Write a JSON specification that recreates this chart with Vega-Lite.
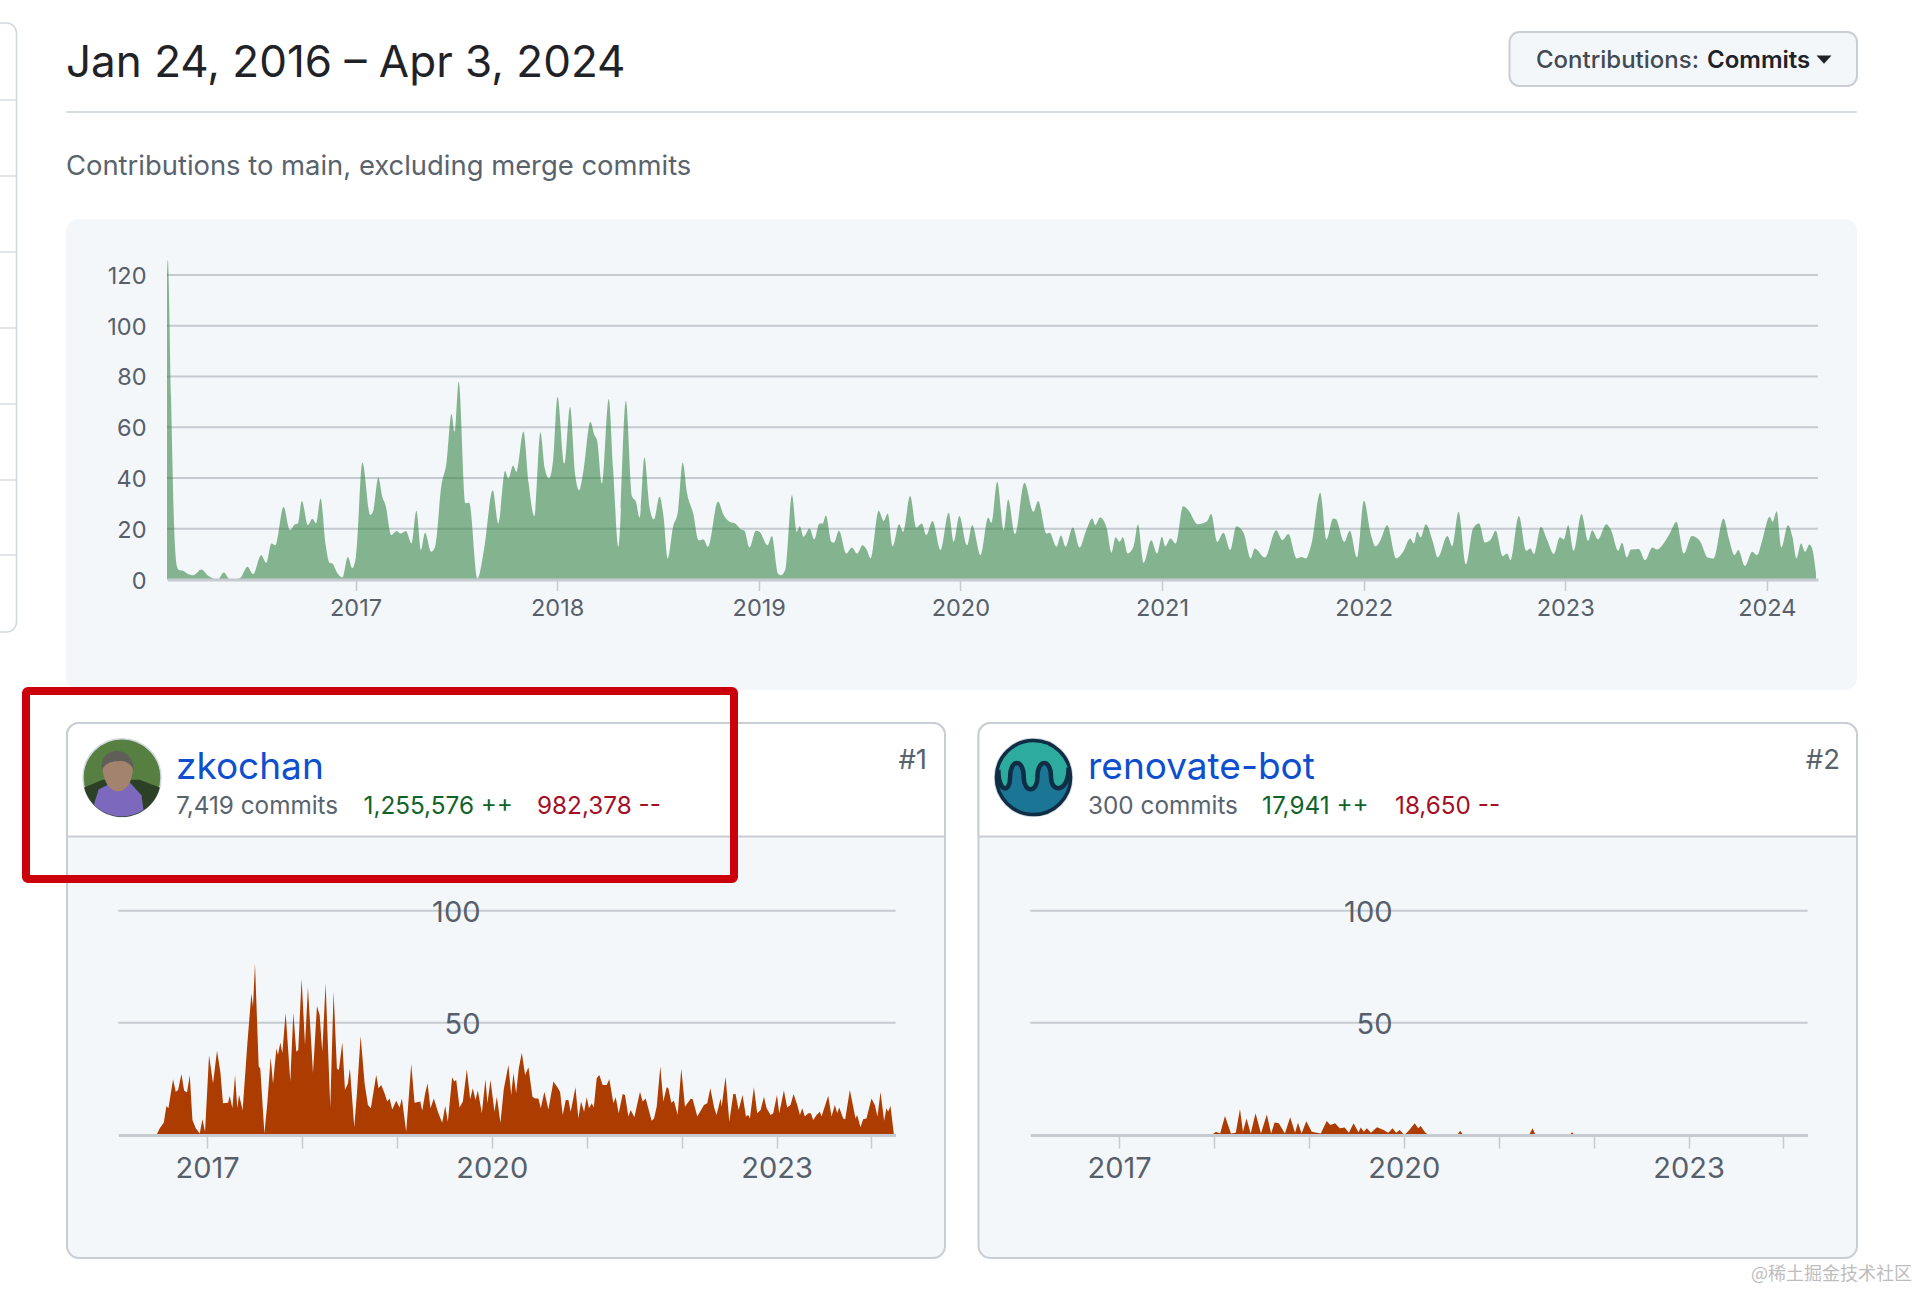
{
"$schema":"https://vega.github.io/schema/vega-lite/v6.json",
"width":1918,"height":1290,"padding":0,"autosize":{"type":"none"},"background":"#ffffff",
"config":{"view":{"stroke":null},"font":"Inter","text":{"baseline":"alphabetic"}},
"datasets":{
"all_commits":[
{"year":2016.065,"commits":120},{"year":2016.069,"commits":126},{"year":2016.085,"commits":72},{"year":2016.101,"commits":19.4},{"year":2016.115,"commits":5},{"year":2016.125,"commits":3.7},{"year":2016.145,"commits":3.4},{"year":2016.165,"commits":2.4},{"year":2016.196,"commits":1.7},{"year":2016.236,"commits":3.9},{"year":2016.266,"commits":1.7},{"year":2016.317,"commits":0},{"year":2016.347,"commits":2.8},{"year":2016.377,"commits":0},{"year":2016.427,"commits":0.5},{"year":2016.464,"commits":5},{"year":2016.492,"commits":2.1},{"year":2016.532,"commits":9.6},{"year":2016.558,"commits":6.6},{"year":2016.583,"commits":14.2},{"year":2016.603,"commits":13.5},{"year":2016.643,"commits":28.6},{"year":2016.675,"commits":19.4},{"year":2016.7,"commits":21.8},{"year":2016.714,"commits":22.1},{"year":2016.734,"commits":30.9},{"year":2016.764,"commits":21.4},{"year":2016.786,"commits":23.9},{"year":2016.804,"commits":22.1},{"year":2016.827,"commits":31.9},{"year":2016.851,"commits":14.2},{"year":2016.871,"commits":6.6},{"year":2016.885,"commits":6.3},{"year":2016.911,"commits":2.4},{"year":2016.935,"commits":0.8},{"year":2016.962,"commits":8.9},{"year":2016.984,"commits":4.5},{"year":2017.002,"commits":8.9},{"year":2017.034,"commits":46.1},{"year":2017.073,"commits":25.4},{"year":2017.089,"commits":27.3},{"year":2017.113,"commits":40.2},{"year":2017.133,"commits":32.6},{"year":2017.149,"commits":29.3},{"year":2017.177,"commits":17.5},{"year":2017.204,"commits":19.1},{"year":2017.224,"commits":18.1},{"year":2017.25,"commits":19.1},{"year":2017.278,"commits":14.2},{"year":2017.302,"commits":27.1},{"year":2017.325,"commits":11.6},{"year":2017.345,"commits":18.4},{"year":2017.375,"commits":10.9},{"year":2017.395,"commits":12.9},{"year":2017.425,"commits":36.5},{"year":2017.452,"commits":46.4},{"year":2017.476,"commits":65.2},{"year":2017.492,"commits":58.2},{"year":2017.512,"commits":77.9},{"year":2017.546,"commits":30},{"year":2017.564,"commits":30.2},{"year":2017.605,"commits":0.4},{"year":2017.637,"commits":11.6},{"year":2017.681,"commits":35.2},{"year":2017.708,"commits":22.1},{"year":2017.742,"commits":42.8},{"year":2017.758,"commits":39.8},{"year":2017.782,"commits":44.9},{"year":2017.798,"commits":42.4},{"year":2017.833,"commits":58.3},{"year":2017.859,"commits":37.8},{"year":2017.887,"commits":25},{"year":2017.917,"commits":58},{"year":2017.939,"commits":43.8},{"year":2017.96,"commits":39.8},{"year":2017.98,"commits":47},{"year":2018.002,"commits":72},{"year":2018.036,"commits":45.7},{"year":2018.064,"commits":68.1},{"year":2018.091,"commits":40.5},{"year":2018.109,"commits":35.2},{"year":2018.131,"commits":43.1},{"year":2018.165,"commits":62.2},{"year":2018.185,"commits":56.9},{"year":2018.198,"commits":54.9},{"year":2018.222,"commits":37.8},{"year":2018.256,"commits":71.1},{"year":2018.278,"commits":43.1},{"year":2018.304,"commits":12.9},{"year":2018.341,"commits":70.4},{"year":2018.373,"commits":32.6},{"year":2018.391,"commits":30.6},{"year":2018.409,"commits":24.4},{"year":2018.433,"commits":48.1},{"year":2018.458,"commits":28.6},{"year":2018.48,"commits":23.7},{"year":2018.508,"commits":32.6},{"year":2018.528,"commits":24.7},{"year":2018.548,"commits":8.3},{"year":2018.575,"commits":20.8},{"year":2018.599,"commits":26.7},{"year":2018.623,"commits":46.1},{"year":2018.645,"commits":33.9},{"year":2018.675,"commits":26},{"year":2018.702,"commits":15.5},
{"year":2018.726,"commits":15.8},{"year":2018.748,"commits":12.9},{"year":2018.798,"commits":30.7},{"year":2018.826,"commits":25.4},{"year":2018.863,"commits":22.5},{"year":2018.879,"commits":22.3},{"year":2018.913,"commits":19.7},{"year":2018.929,"commits":19.2},{"year":2018.954,"commits":12.6},{"year":2018.986,"commits":19.2},{"year":2019.004,"commits":18.8},{"year":2019.044,"commits":13.5},{"year":2019.065,"commits":17.1},{"year":2019.095,"commits":2.4},{"year":2019.111,"commits":1.7},{"year":2019.131,"commits":3.7},{"year":2019.165,"commits":33.2},{"year":2019.188,"commits":18.8},{"year":2019.204,"commits":21},{"year":2019.222,"commits":16.8},{"year":2019.252,"commits":20.1},{"year":2019.276,"commits":15.8},{"year":2019.301,"commits":22.1},{"year":2019.317,"commits":22.1},{"year":2019.333,"commits":25.2},{"year":2019.361,"commits":14.8},{"year":2019.373,"commits":14.5},{"year":2019.398,"commits":19.2},{"year":2019.434,"commits":10.2},{"year":2019.462,"commits":12.6},{"year":2019.488,"commits":10.2},{"year":2019.515,"commits":13.5},{"year":2019.535,"commits":11.8},{"year":2019.555,"commits":8.3},{"year":2019.595,"commits":27.1},{"year":2019.62,"commits":23.1},{"year":2019.64,"commits":26},{"year":2019.664,"commits":13.1},{"year":2019.696,"commits":21.8},{"year":2019.716,"commits":18.8},{"year":2019.751,"commits":32.9},{"year":2019.781,"commits":20.5},{"year":2019.809,"commits":22.1},{"year":2019.831,"commits":17.5},{"year":2019.862,"commits":23.1},{"year":2019.902,"commits":11.6},{"year":2019.942,"commits":26.3},{"year":2019.967,"commits":14.8},{"year":2019.995,"commits":25},{"year":2020.033,"commits":13.5},{"year":2020.059,"commits":21.4},{"year":2020.1,"commits":9.6},{"year":2020.138,"commits":24.4},{"year":2020.154,"commits":22.3},{"year":2020.183,"commits":38.5},{"year":2020.215,"commits":19.4},{"year":2020.237,"commits":31.5},{"year":2020.271,"commits":17.9},{"year":2020.318,"commits":38.1},{"year":2020.362,"commits":26.7},{"year":2020.386,"commits":30.9},{"year":2020.427,"commits":18.1},{"year":2020.443,"commits":18.4},{"year":2020.477,"commits":12.9},{"year":2020.499,"commits":17.3},{"year":2020.522,"commits":12.9},{"year":2020.558,"commits":20.5},{"year":2020.592,"commits":12.6},{"year":2020.622,"commits":18.8},{"year":2020.655,"commits":24},{"year":2020.669,"commits":21.4},{"year":2020.693,"commits":24.4},{"year":2020.725,"commits":20.5},{"year":2020.75,"commits":10.5},{"year":2020.77,"commits":16.6},{"year":2020.79,"commits":14.8},{"year":2020.806,"commits":16.6},{"year":2020.83,"commits":10.2},{"year":2020.861,"commits":13.5},{"year":2020.881,"commits":21.7},{"year":2020.909,"commits":6.6},{"year":2020.947,"commits":15.5},{"year":2020.976,"commits":10.2},{"year":2021,"commits":16.8},{"year":2021.016,"commits":13.1},{"year":2021.042,"commits":16.2},{"year":2021.068,"commits":14.2},{"year":2021.105,"commits":28.9},{"year":2021.133,"commits":27.1},{"year":2021.177,"commits":21.8},{"year":2021.224,"commits":23},{"year":2021.244,"commits":25.8},{"year":2021.274,"commits":14.8},{"year":2021.305,"commits":18.4},{"year":2021.339,"commits":11.6},{"year":2021.369,"commits":21},{"year":2021.405,"commits":18.4},{"year":2021.44,"commits":8.3},{"year":2021.46,"commits":12.2},{"year":2021.51,"commits":8.7},{"year":2021.567,"commits":19.4},{"year":2021.597,"commits":15.5},{"year":2021.627,"commits":17.9},{"year":2021.668,"commits":8.3},
{"year":2021.693,"commits":8.9},{"year":2021.713,"commits":8.3},{"year":2021.742,"commits":14.2},{"year":2021.785,"commits":34.2},{"year":2021.816,"commits":15.8},{"year":2021.849,"commits":24},{"year":2021.863,"commits":23.7},{"year":2021.904,"commits":14.8},{"year":2021.932,"commits":19.2},{"year":2021.967,"commits":8.7},{"year":2022.002,"commits":31},{"year":2022.035,"commits":18.1},{"year":2022.059,"commits":13.1},{"year":2022.084,"commits":15.5},{"year":2022.117,"commits":21.4},{"year":2022.162,"commits":8.3},{"year":2022.196,"commits":10.9},{"year":2022.231,"commits":16.2},{"year":2022.25,"commits":14.2},{"year":2022.266,"commits":18.8},{"year":2022.283,"commits":16.6},{"year":2022.309,"commits":21.8},{"year":2022.344,"commits":14.8},{"year":2022.368,"commits":8.7},{"year":2022.416,"commits":17.1},{"year":2022.44,"commits":13.1},{"year":2022.471,"commits":26.7},{"year":2022.508,"commits":6},{"year":2022.543,"commits":20.1},{"year":2022.573,"commits":22.1},{"year":2022.602,"commits":14.6},{"year":2022.631,"commits":15.8},{"year":2022.655,"commits":19.2},{"year":2022.69,"commits":9.2},{"year":2022.712,"commits":10.2},{"year":2022.729,"commits":7.6},{"year":2022.77,"commits":25},{"year":2022.807,"commits":11.3},{"year":2022.827,"commits":12.2},{"year":2022.845,"commits":10},{"year":2022.88,"commits":20.8},{"year":2022.911,"commits":15.5},{"year":2022.944,"commits":10},{"year":2022.974,"commits":16.6},{"year":2022.993,"commits":15.8},{"year":2023.015,"commits":21.4},{"year":2023.042,"commits":11.3},{"year":2023.081,"commits":25.8},{"year":2023.114,"commits":15.2},{"year":2023.134,"commits":19.4},{"year":2023.163,"commits":15.8},{"year":2023.204,"commits":21.8},{"year":2023.228,"commits":19.4},{"year":2023.263,"commits":11.3},{"year":2023.282,"commits":14.5},{"year":2023.306,"commits":8.7},{"year":2023.326,"commits":11.8},{"year":2023.365,"commits":12},{"year":2023.396,"commits":7.6},{"year":2023.433,"commits":12.6},{"year":2023.455,"commits":11.8},{"year":2023.482,"commits":13.5},{"year":2023.517,"commits":17.9},{"year":2023.552,"commits":22.7},{"year":2023.589,"commits":10.2},{"year":2023.628,"commits":17.1},{"year":2023.668,"commits":15.2},{"year":2023.707,"commits":8.7},{"year":2023.736,"commits":8.3},{"year":2023.785,"commits":24},{"year":2023.814,"commits":15.5},{"year":2023.84,"commits":9.6},{"year":2023.859,"commits":11.6},{"year":2023.892,"commits":5.3},{"year":2023.928,"commits":10.9},{"year":2023.951,"commits":9.6},{"year":2023.98,"commits":16.2},{"year":2024.014,"commits":24.7},{"year":2024.029,"commits":22.7},{"year":2024.049,"commits":26.9},{"year":2024.072,"commits":12.6},{"year":2024.105,"commits":21.4},{"year":2024.127,"commits":16.8},{"year":2024.147,"commits":8.3},{"year":2024.17,"commits":14.2},{"year":2024.19,"commits":10.9},{"year":2024.211,"commits":13.8},{"year":2024.225,"commits":12.2},{"year":2024.244,"commits":2.4}
],
"zkochan":[
{"year":2016.467,"commits":0},{"year":2016.502,"commits":3},{"year":2016.544,"commits":5.5},{"year":2016.572,"commits":12.9},{"year":2016.593,"commits":11.9},{"year":2016.642,"commits":24.8},{"year":2016.67,"commits":19.3},{"year":2016.695,"commits":20.1},{"year":2016.73,"commits":27.2},{"year":2016.758,"commits":19.8},{"year":2016.789,"commits":18.9},{"year":2016.818,"commits":26.6},{"year":2016.846,"commits":6.7},{"year":2016.881,"commits":3},{"year":2016.923,"commits":0.7},{"year":2016.951,"commits":7},{"year":2016.979,"commits":1.5},{"year":2017.021,"commits":35.5},{"year":2017.063,"commits":23},{"year":2017.105,"commits":37.6},{"year":2017.14,"commits":28.2},{"year":2017.168,"commits":14.1},{"year":2017.221,"commits":14.4},{"year":2017.239,"commits":17.4},{"year":2017.267,"commits":11.9},{"year":2017.295,"commits":26.7},{"year":2017.319,"commits":11.9},{"year":2017.337,"commits":17.8},{"year":2017.375,"commits":11.1},{"year":2017.425,"commits":40.9},{"year":2017.467,"commits":63.1},{"year":2017.484,"commits":57.2},{"year":2017.505,"commits":76.5},{"year":2017.544,"commits":30.5},{"year":2017.561,"commits":29.7},{"year":2017.604,"commits":0.7},{"year":2017.635,"commits":14.1},{"year":2017.67,"commits":34.6},{"year":2017.695,"commits":23},{"year":2017.73,"commits":38.6},{"year":2017.747,"commits":35.7},{"year":2017.772,"commits":41.2},{"year":2017.793,"commits":36.4},{"year":2017.828,"commits":54.5},{"year":2017.877,"commits":23.8},{"year":2017.909,"commits":54.5},{"year":2017.94,"commits":37.1},{"year":2017.961,"commits":37.9},{"year":2017.996,"commits":69.8},{"year":2018.032,"commits":40.1},{"year":2018.063,"commits":65.8},{"year":2018.116,"commits":27.5},{"year":2018.158,"commits":57.5},{"year":2018.186,"commits":53.5},{"year":2018.214,"commits":37.1},{"year":2018.249,"commits":67.6},{"year":2018.298,"commits":12.3},{"year":2018.333,"commits":63.9},{"year":2018.368,"commits":29.7},{"year":2018.389,"commits":29},{"year":2018.425,"commits":41.2},{"year":2018.453,"commits":20.1},{"year":2018.484,"commits":23},{"year":2018.505,"commits":29.7},{"year":2018.551,"commits":3.4},{"year":2018.579,"commits":18.6},{"year":2018.618,"commits":44.1},{"year":2018.66,"commits":23},{"year":2018.695,"commits":13.4},{"year":2018.726,"commits":11.9},{"year":2018.782,"commits":26.7},{"year":2018.807,"commits":20.8},{"year":2018.835,"commits":22.3},{"year":2018.87,"commits":18.6},{"year":2018.898,"commits":14.9},{"year":2018.923,"commits":16.3},{"year":2018.951,"commits":11.4},{"year":2018.993,"commits":15.3},{"year":2019.028,"commits":12.3},{"year":2019.053,"commits":16.3},{"year":2019.098,"commits":1.5},{"year":2019.151,"commits":31.6},{"year":2019.186,"commits":14.4},{"year":2019.246,"commits":14.9},{"year":2019.267,"commits":10.8},{"year":2019.298,"commits":18.6},{"year":2019.323,"commits":23},{"year":2019.354,"commits":11.9},{"year":2019.389,"commits":16.3},{"year":2019.432,"commits":10.4},{"year":2019.477,"commits":5.5},{"year":2019.509,"commits":12.9},{"year":2019.537,"commits":5.9},{"year":2019.582,"commits":25.7},{"year":2019.604,"commits":23.8},{"year":2019.625,"commits":24.5},{"year":2019.66,"commits":12.3},{"year":2019.695,"commits":14.9},{"year":2019.737,"commits":29.3},{"year":2019.772,"commits":15.9},{"year":2019.8,"commits":20.8},{"year":2019.828,"commits":15.6},{"year":2019.853,"commits":19.8},{"year":2019.895,"commits":9.7},{"year":2019.933,"commits":24.8},{"year":2019.954,"commits":14.1},{"year":2019.986,"commits":24.5},{"year":2020.028,"commits":10.4},{"year":2020.053,"commits":17.1},{"year":2020.091,"commits":5.5},{"year":2020.126,"commits":20.4},{"year":2020.175,"commits":31.2},{"year":2020.204,"commits":17.8},{"year":2020.228,"commits":27.5},{"year":2020.256,"commits":18.6},{"year":2020.284,"commits":29.7},{"year":2020.316,"commits":36.7},{"year":2020.351,"commits":26.7},{"year":2020.386,"commits":30.2},{"year":2020.428,"commits":17.1},{"year":2020.456,"commits":16.3},{"year":2020.491,"commits":16.3},{"year":2020.516,"commits":11.9},{"year":2020.554,"commits":19.3},{"year":2020.596,"commits":11.4},{"year":2020.649,"commits":23.8},{"year":2020.691,"commits":21.3},{"year":2020.719,"commits":19.3},{"year":2020.747,"commits":8.9},{"year":2020.779,"commits":15.6},{"year":2020.807,"commits":15.6},{"year":2020.831,"commits":10.4},{"year":2020.881,"commits":21.3},{"year":2020.912,"commits":7.4},{"year":2020.94,"commits":14.9},{"year":2020.972,"commits":10.4},{"year":2021,"commits":16.8},{"year":2021.024,"commits":11.9},{"year":2021.053,"commits":14.1},{"year":2021.074,"commits":12.3},{"year":2021.105,"commits":25.3},{"year":2021.133,"commits":26.7},{"year":2021.168,"commits":22.3},{"year":2021.21,"commits":22.3},{"year":2021.238,"commits":24.8},{"year":2021.281,"commits":14.1},{"year":2021.305,"commits":16.8},{"year":2021.337,"commits":9.7},{"year":2021.379,"commits":18.3},{"year":2021.403,"commits":17.8},{"year":2021.439,"commits":8.2},{"year":2021.463,"commits":11.1},{"year":2021.502,"commits":7.9},{"year":2021.561,"commits":19.3},{"year":2021.589,"commits":14.9},{"year":2021.621,"commits":16.3},{"year":2021.684,"commits":6.4},{"year":2021.709,"commits":7.4},{"year":2021.737,"commits":12.6},{"year":2021.775,"commits":30.5},{"year":2021.807,"commits":14.9},{"year":2021.842,"commits":21.3},{"year":2021.86,"commits":20.8},{"year":2021.891,"commits":14.4},{"year":2021.919,"commits":15.3},{"year":2021.958,"commits":8.9},{"year":2021.996,"commits":29.7},{"year":2022.035,"commits":12.6},{"year":2022.095,"commits":16.2},{"year":2022.116,"commits":15.9},{"year":2022.165,"commits":8.2},{"year":2022.235,"commits":13.4},{"year":2022.27,"commits":14.1},{"year":2022.302,"commits":20.8},{"year":2022.344,"commits":11.9},{"year":2022.368,"commits":8.9},{"year":2022.41,"commits":16.3},{"year":2022.421,"commits":12.6},{"year":2022.463,"commits":26},{"year":2022.502,"commits":5.9},{"year":2022.544,"commits":18.3},{"year":2022.568,"commits":18.3},{"year":2022.6,"commits":11.1},{"year":2022.642,"commits":17.8},{"year":2022.677,"commits":8.2},{"year":2022.702,"commits":8.9},{"year":2022.719,"commits":7.4},{"year":2022.761,"commits":21.3},{"year":2022.796,"commits":9.7},{"year":2022.832,"commits":11.1},{"year":2022.867,"commits":17.1},{"year":2022.895,"commits":11.9},{"year":2022.937,"commits":8.9},{"year":2022.965,"commits":9.7},{"year":2023.004,"commits":17.8},{"year":2023.028,"commits":9.7},{"year":2023.077,"commits":19.8},{"year":2023.112,"commits":12.3},{"year":2023.147,"commits":13.4},{"year":2023.179,"commits":18.3},{"year":2023.218,"commits":13.4},{"year":2023.246,"commits":8.9},{"year":2023.27,"commits":11.9},{"year":2023.298,"commits":8.2},{"year":2023.333,"commits":9.7},{"year":2023.361,"commits":9.7},{"year":2023.386,"commits":6.7},{"year":2023.421,"commits":8.9},{"year":2023.456,"commits":10.4},{"year":2023.474,"commits":8.2},{"year":2023.544,"commits":17.5},{"year":2023.579,"commits":8.2},{"year":2023.614,"commits":13.4},{"year":2023.639,"commits":9.7},{"year":2023.66,"commits":12.3},{"year":2023.702,"commits":7.4},{"year":2023.723,"commits":7},{"year":2023.772,"commits":20.1},{"year":2023.832,"commits":7.4},{"year":2023.849,"commits":8.9},{"year":2023.884,"commits":3.4},{"year":2023.912,"commits":7},{"year":2023.947,"commits":7.4},{"year":2024,"commits":16.3},{"year":2024.035,"commits":13.4},{"year":2024.063,"commits":8.2},{"year":2024.095,"commits":19.2},{"year":2024.133,"commits":6.4},{"year":2024.158,"commits":11.9},{"year":2024.175,"commits":10.4},{"year":2024.2,"commits":12.9},{"year":2024.235,"commits":0.7}
],
"renovate_bot":[
{"year":2017.977,"commits":0},{"year":2018.021,"commits":1.5},{"year":2018.065,"commits":0.7},{"year":2018.116,"commits":8.5},{"year":2018.179,"commits":0.7},{"year":2018.23,"commits":1},{"year":2018.274,"commits":11.6},{"year":2018.305,"commits":1.5},{"year":2018.343,"commits":7.4},{"year":2018.387,"commits":0.7},{"year":2018.438,"commits":9.7},{"year":2018.495,"commits":0.7},{"year":2018.557,"commits":9.1},{"year":2018.602,"commits":0.7},{"year":2018.639,"commits":5.6},{"year":2018.683,"commits":5.2},{"year":2018.747,"commits":0.7},{"year":2018.803,"commits":7.9},{"year":2018.854,"commits":1},{"year":2018.885,"commits":5.5},{"year":2018.923,"commits":0.7},{"year":2018.973,"commits":6.1},{"year":2019.03,"commits":1.5},{"year":2019.125,"commits":0.7},{"year":2019.188,"commits":6.2},{"year":2019.226,"commits":4.5},{"year":2019.276,"commits":5.2},{"year":2019.326,"commits":3},{"year":2019.377,"commits":3.3},{"year":2019.421,"commits":1},{"year":2019.471,"commits":5.2},{"year":2019.522,"commits":1.2},{"year":2019.547,"commits":3.3},{"year":2019.579,"commits":1.5},{"year":2019.61,"commits":3},{"year":2019.654,"commits":1},{"year":2019.717,"commits":3.4},{"year":2019.787,"commits":2.2},{"year":2019.837,"commits":1},{"year":2019.881,"commits":3},{"year":2019.919,"commits":1},{"year":2019.957,"commits":2.2},{"year":2020.007,"commits":0},{"year":2020.058,"commits":2.2},{"year":2020.115,"commits":5.2},{"year":2020.152,"commits":3},{"year":2020.177,"commits":4},{"year":2020.228,"commits":1},{"year":2020.26,"commits":0},{"year":2020.562,"commits":0},{"year":2020.594,"commits":1.9},{"year":2020.625,"commits":0},{"year":2021.319,"commits":0},{"year":2021.357,"commits":3},{"year":2021.388,"commits":0},{"year":2021.747,"commits":0},{"year":2021.773,"commits":1.2},{"year":2021.798,"commits":0},{"year":2024.245,"commits":0}
],
"grid_main":[{"tick":20},{"tick":40},{"tick":60},{"tick":80},{"tick":100},{"tick":120}],
"grid_small":[{"tick":50},{"tick":100}]
},
"resolve":{"scale":{"x":"independent","y":"independent"},"axis":{"x":"independent","y":"independent"}},
"layer":[
{
"data":{"values":[{}]},
"encoding":{
"x":{"type":"quantitative","scale":{"domain":[0,1918],"range":[0,1918],"nice":false,"zero":false},"axis":null},
"y":{"type":"quantitative","scale":{"domain":[0,1290],"range":[0,1290],"nice":false,"zero":false},"axis":null}
},
"layer":[
{"mark":{"type":"rect","cornerRadius":10,"fill":"#ffffff","stroke":"#d0d7de","strokeWidth":1.5},"encoding":{"x":{"datum":-20},"x2":{"datum":16.5},"y":{"datum":23},"y2":{"datum":632}}},
{"mark":{"type":"rule","color":"#d8dee4","strokeWidth":1.5},"encoding":{"x":{"datum":0},"x2":{"datum":16},"y":{"datum":100}}},
{"mark":{"type":"rule","color":"#d8dee4","strokeWidth":1.5},"encoding":{"x":{"datum":0},"x2":{"datum":16},"y":{"datum":176}}},
{"mark":{"type":"rule","color":"#d8dee4","strokeWidth":1.5},"encoding":{"x":{"datum":0},"x2":{"datum":16},"y":{"datum":252}}},
{"mark":{"type":"rule","color":"#d8dee4","strokeWidth":1.5},"encoding":{"x":{"datum":0},"x2":{"datum":16},"y":{"datum":328}}},
{"mark":{"type":"rule","color":"#d8dee4","strokeWidth":1.5},"encoding":{"x":{"datum":0},"x2":{"datum":16},"y":{"datum":404}}},
{"mark":{"type":"rule","color":"#d8dee4","strokeWidth":1.5},"encoding":{"x":{"datum":0},"x2":{"datum":16},"y":{"datum":480}}},
{"mark":{"type":"rule","color":"#d8dee4","strokeWidth":1.5},"encoding":{"x":{"datum":0},"x2":{"datum":16},"y":{"datum":555}}},
{"mark":{"type":"text","align":"left","fontSize":44,"fontWeight":400,"color":"#1f2328"},"encoding":{"x":{"datum":66},"y":{"datum":77},"text":{"value":"Jan 24, 2016 – Apr 3, 2024"}}},
{"mark":{"type":"rect","cornerRadius":10,"fill":"#f3f7fa","stroke":"#c9ced4","strokeWidth":2},"encoding":{"x":{"datum":1509.5},"x2":{"datum":1857},"y":{"datum":32},"y2":{"datum":86}}},
{"mark":{"type":"text","align":"left","fontSize":24,"fontWeight":500,"color":"#424a53"},"encoding":{"x":{"datum":1536},"y":{"datum":68},"text":{"value":"Contributions:"}}},
{"mark":{"type":"text","align":"left","fontSize":24,"fontWeight":600,"color":"#1f2328"},"encoding":{"x":{"datum":1707},"y":{"datum":68},"text":{"value":"Commits"}}},
{"mark":{"type":"point","shape":"M-1,-0.55 L1,-0.55 L0,0.55 Z","size":225,"filled":true,"opacity":1,"color":"#1f2328"},"encoding":{"x":{"datum":1824},"y":{"datum":59.5}}},
{"mark":{"type":"rule","color":"#d8dee4","strokeWidth":2},"encoding":{"x":{"datum":66},"x2":{"datum":1857},"y":{"datum":112}}},
{"mark":{"type":"text","align":"left","fontSize":27.4,"color":"#59636e"},"encoding":{"x":{"datum":66},"y":{"datum":175},"text":{"value":"Contributions to main, excluding merge commits"}}},
{"mark":{"type":"rect","cornerRadius":12,"fill":"#f3f7fa"},"encoding":{"x":{"datum":66},"x2":{"datum":1857},"y":{"datum":219},"y2":{"datum":690}}},
{"mark":{"type":"rect","cornerRadius":12,"fill":"#f3f7fa","stroke":"#c9ced4","strokeWidth":2},"encoding":{"x":{"datum":67},"x2":{"datum":945},"y":{"datum":723},"y2":{"datum":1258}}},
{"mark":{"type":"rect","cornerRadiusTopLeft":12,"cornerRadiusTopRight":12,"fill":"#ffffff","stroke":"#c9ced4","strokeWidth":2},"encoding":{"x":{"datum":67},"x2":{"datum":945},"y":{"datum":723},"y2":{"datum":836.5}}},
{"mark":{"type":"rect","cornerRadius":12,"fill":"#f3f7fa","stroke":"#c9ced4","strokeWidth":2},"encoding":{"x":{"datum":978.5},"x2":{"datum":1857},"y":{"datum":723},"y2":{"datum":1258}}},
{"mark":{"type":"rect","cornerRadiusTopLeft":12,"cornerRadiusTopRight":12,"fill":"#ffffff","stroke":"#c9ced4","strokeWidth":2},"encoding":{"x":{"datum":978.5},"x2":{"datum":1857},"y":{"datum":723},"y2":{"datum":836.5}}},
{"mark":{"type":"point","shape":"circle","size":6084,"filled":true,"opacity":1,"fill":"#587f42","stroke":"#d0d7de","strokeWidth":1.5},"encoding":{"x":{"datum":122},"y":{"datum":777.7}}},
{"mark":{"type":"point","shape":"M-0.97,0.25 A1,1 0 0 0 0.97,0.25 L0.45,0.05 L-0.5,0.05 Z","size":6084,"filled":true,"opacity":1,"fill":"#2c4026"},"encoding":{"x":{"datum":122},"y":{"datum":777.7}}},
{"mark":{"type":"point","shape":"M-0.72,0.69 L-0.6,0.3 L-0.2,0.1 L0.2,0.12 L0.5,0.45 L0.55,0.83 A1,1 0 0 1 -0.72,0.69 Z","size":6084,"filled":true,"opacity":1,"fill":"#7c68bd"},"encoding":{"x":{"datum":122},"y":{"datum":777.7}}},
{"mark":{"type":"point","shape":"M-0.5,-0.3 C-0.5,-0.75 0.28,-0.75 0.28,-0.3 C0.28,0.2 0.05,0.35 -0.1,0.35 C-0.3,0.35 -0.5,0.1 -0.5,-0.3 Z","size":6084,"filled":true,"opacity":1,"fill":"#a4836e"},"encoding":{"x":{"datum":122},"y":{"datum":777.7}}},
{"mark":{"type":"point","shape":"M-0.52,-0.2 C-0.6,-0.85 0.32,-0.85 0.3,-0.2 C0.2,-0.4 0.05,-0.45 -0.1,-0.42 C-0.25,-0.42 -0.4,-0.4 -0.52,-0.2 Z","size":6084,"filled":true,"opacity":1,"fill":"#5f5f58"},"encoding":{"x":{"datum":122},"y":{"datum":777.7}}},
{"mark":{"type":"text","align":"left","fontSize":37,"color":"#0d4fcf"},"encoding":{"x":{"datum":176},"y":{"datum":779},"text":{"value":"zkochan"}}},
{"mark":{"type":"text","align":"left","fontSize":24.3,"color":"#59636e"},"encoding":{"x":{"datum":176},"y":{"datum":814},"text":{"value":"7,419 commits"}}},
{"mark":{"type":"text","align":"left","fontSize":24.3,"color":"#116329"},"encoding":{"x":{"datum":363.5},"y":{"datum":814},"text":{"value":"1,255,576 ++"}}},
{"mark":{"type":"text","align":"left","fontSize":24.3,"color":"#a40e26"},"encoding":{"x":{"datum":537},"y":{"datum":814},"text":{"value":"982,378 --"}}},
{"mark":{"type":"text","align":"right","fontSize":27.5,"color":"#59636e"},"encoding":{"x":{"datum":927},"y":{"datum":769},"text":{"value":"#1"}}},
{"mark":{"type":"point","shape":"circle","size":6084,"filled":true,"opacity":1,"fill":"#1b7595","stroke":"#d0d7de","strokeWidth":1.5},"encoding":{"x":{"datum":1033.5},"y":{"datum":777.5}}},
{"mark":{"type":"point","shape":"M-0.9,-0.2 C-0.9,0.4 -0.6,0.4 -0.6,0 C-0.6,-0.5 -0.25,-0.5 -0.25,0 C-0.25,0.4 0.1,0.4 0.1,0 C0.1,-0.5 0.45,-0.5 0.45,0 C0.45,0.4 0.9,0.4 0.9,-0.25 A0.93,0.93 0 0 0 -0.9,-0.2 Z","size":6084,"filled":true,"opacity":1,"fill":"#2dab9f"},"encoding":{"x":{"datum":1033.5},"y":{"datum":777.5}}},
{"mark":{"type":"point","shape":"M-0.9,-0.2 C-0.9,0.4 -0.6,0.4 -0.6,0 C-0.6,-0.5 -0.25,-0.5 -0.25,0 C-0.25,0.4 0.1,0.4 0.1,0 C0.1,-0.5 0.45,-0.5 0.45,0 C0.45,0.4 0.9,0.4 0.9,-0.25","size":6084,"filled":false,"opacity":1,"stroke":"#0f2d44","strokeWidth":4.5},"encoding":{"x":{"datum":1033.5},"y":{"datum":777.5}}},
{"mark":{"type":"point","shape":"circle","size":5500,"filled":false,"opacity":1,"stroke":"#0f2d44","strokeWidth":3.5},"encoding":{"x":{"datum":1033.5},"y":{"datum":777.5}}},
{"mark":{"type":"text","align":"left","fontSize":37,"color":"#0d4fcf"},"encoding":{"x":{"datum":1088},"y":{"datum":779},"text":{"value":"renovate-bot"}}},
{"mark":{"type":"text","align":"left","fontSize":24.3,"color":"#59636e"},"encoding":{"x":{"datum":1088},"y":{"datum":814},"text":{"value":"300 commits"}}},
{"mark":{"type":"text","align":"left","fontSize":24.3,"color":"#116329"},"encoding":{"x":{"datum":1262},"y":{"datum":814},"text":{"value":"17,941 ++"}}},
{"mark":{"type":"text","align":"left","fontSize":24.3,"color":"#a40e26"},"encoding":{"x":{"datum":1395},"y":{"datum":814},"text":{"value":"18,650 --"}}},
{"mark":{"type":"text","align":"right","fontSize":27.5,"color":"#59636e"},"encoding":{"x":{"datum":1840},"y":{"datum":769},"text":{"value":"#2"}}},
{"mark":{"type":"rect","cornerRadius":2,"fill":null,"stroke":"#cc000a","strokeWidth":8},"encoding":{"x":{"datum":26},"x2":{"datum":734},"y":{"datum":691},"y2":{"datum":879}}},
{"mark":{"type":"text","align":"right","fontSize":18,"font":"Noto Sans CJK SC","color":"#bdbdbd"},"encoding":{"x":{"datum":1912},"y":{"datum":1280},"text":{"value":"@稀土掘金技术社区"}}}
]
},
{
"encoding":{
"x":{"type":"quantitative","scale":{"domain":[2016.065,2024.254],"range":[167,1818],"nice":false,"zero":false}},
"y":{"type":"quantitative","scale":{"domain":[0,130],"range":[579.5,249.6],"nice":false,"zero":false}}
},
"layer":[
{"data":{"name":"grid_main"},"mark":{"type":"rule","color":"#c6cbd1","strokeWidth":2},"encoding":{"x":{"datum":2016.065},"x2":{"datum":2024.254},"y":{"field":"tick"}}},
{"data":{"name":"all_commits"},"mark":{"type":"area","interpolate":"monotone","fill":"#287d37","opacity":0.55},
"encoding":{
"x":{"field":"year","axis":{"orient":"bottom","offset":-710.5,"title":null,"values":[2017,2018,2019,2020,2021,2022,2023,2024],"format":"d","grid":false,"zindex":1,"domainColor":"#c6cbd1","domainWidth":3,"tickColor":"#c6cbd1","tickWidth":1.5,"tickSize":11,"labelFontSize":23.5,"labelColor":"#57606a","labelPadding":5.5,"labelFlush":false,"labelOverlap":false}},
"y":{"field":"commits","stack":null,"axis":{"orient":"left","offset":-146,"title":null,"values":[0,20,40,60,80,100,120],"grid":false,"zindex":1,"domain":false,"ticks":false,"labelFontSize":23.5,"labelColor":"#57606a","labelPadding":0,"labelOffset":1.5,"labelOverlap":false,"labelBound":false,"labelFlush":false}}
}}
]
},
{
"encoding":{
"x":{"type":"quantitative","scale":{"domain":[2016.065,2024.254],"range":[118.3,895.6],"nice":false,"zero":false}},
"y":{"type":"quantitative","scale":{"domain":[0,100],"range":[1135,910.7],"nice":false,"zero":false}}
},
"layer":[
{"data":{"name":"grid_small"},"mark":{"type":"rule","color":"#c6cbd1","strokeWidth":2},"encoding":{"x":{"datum":2016.065},"x2":{"datum":2024.254},"y":{"field":"tick"}}},
{"data":{"name":"zkochan"},"mark":{"type":"area","fill":"#ad3c00"},
"encoding":{
"x":{"field":"year","axis":{"orient":"bottom","offset":-155,"title":null,"values":[2017,2018,2019,2020,2021,2022,2023,2024],"format":"d","labelExpr":"datum.value % 3 === 1 ? datum.label : ''","grid":false,"zindex":1,"domainColor":"#c6cbd1","domainWidth":3,"tickColor":"#c6cbd1","tickWidth":1.5,"tickSize":13,"labelFontSize":29,"labelColor":"#57606a","labelPadding":6,"labelFlush":false,"labelOverlap":false}},
"y":{"field":"commits","stack":null,"axis":{"orient":"left","offset":-480,"title":null,"values":[50,100],"grid":false,"zindex":1,"domain":false,"ticks":false,"labelFontSize":29,"labelColor":"#57606a","labelPadding":0,"labelOffset":1.5,"labelOverlap":false,"labelBound":false,"labelFlush":false}}
}}
]
},
{
"encoding":{
"x":{"type":"quantitative","scale":{"domain":[2016.065,2024.254],"range":[1030.3,1807.6],"nice":false,"zero":false}},
"y":{"type":"quantitative","scale":{"domain":[0,100],"range":[1135,910.7],"nice":false,"zero":false}}
},
"layer":[
{"data":{"name":"grid_small"},"mark":{"type":"rule","color":"#c6cbd1","strokeWidth":2},"encoding":{"x":{"datum":2016.065},"x2":{"datum":2024.254},"y":{"field":"tick"}}},
{"data":{"name":"renovate_bot"},"mark":{"type":"area","fill":"#ad3c00"},
"encoding":{
"x":{"field":"year","axis":{"orient":"bottom","offset":-155,"title":null,"values":[2017,2018,2019,2020,2021,2022,2023,2024],"format":"d","labelExpr":"datum.value % 3 === 1 ? datum.label : ''","grid":false,"zindex":1,"domainColor":"#c6cbd1","domainWidth":3,"tickColor":"#c6cbd1","tickWidth":1.5,"tickSize":13,"labelFontSize":29,"labelColor":"#57606a","labelPadding":6,"labelFlush":false,"labelOverlap":false}},
"y":{"field":"commits","stack":null,"axis":{"orient":"left","offset":-1392,"title":null,"values":[50,100],"grid":false,"zindex":1,"domain":false,"ticks":false,"labelFontSize":29,"labelColor":"#57606a","labelPadding":0,"labelOffset":1.5,"labelOverlap":false,"labelBound":false,"labelFlush":false}}
}}
]
}
]
}
